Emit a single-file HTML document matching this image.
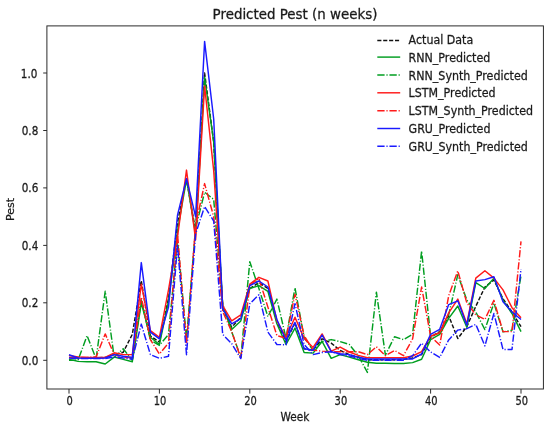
<!DOCTYPE html>
<html><head><meta charset="utf-8"><title>Predicted Pest (n weeks)</title>
<style>
html,body{margin:0;padding:0;background:#fff;}
body{width:550px;height:425px;overflow:hidden;}
svg{display:block;}
text{font-family:"DejaVu Sans","Liberation Sans",sans-serif;fill:#1a1a1a;stroke:#1a1a1a;stroke-width:0.27px;}
.t{font-size:11.1px;}
.ttl{font-size:13.3px;}
polyline,line.s{fill:none;stroke-width:1.45;stroke-linejoin:round;}
</style></head><body>
<svg width="550" height="425" viewBox="0 0 550 425">
<rect width="550" height="425" fill="#fff"/>
<text transform="translate(295.0,18.7) scale(1.000,1)" font-size="13.4" text-anchor="middle">Predicted Pest (n weeks)</text>
<g clip-path="none">
<polyline points="69.0,357.4 78.0,358.0 87.1,358.0 96.1,358.0 105.2,357.4 114.2,354.6 123.2,352.3 132.3,334.4 141.3,280.7 150.4,335.9 159.4,342.2 168.5,298.5 177.5,222.4 186.5,179.3 195.6,231.0 204.6,73.0 213.7,142.0 222.7,308.6 231.7,327.3 240.8,317.2 249.8,288.5 258.9,282.7 267.9,288.5 276.9,321.5 286.0,341.6 295.0,323.0 304.1,348.8 313.1,350.2 322.1,338.8 331.2,343.1 340.2,350.5 349.3,354.6 358.3,357.4 367.4,359.7 376.4,359.7 385.4,359.7 394.5,359.7 403.5,359.4 412.6,358.0 421.6,354.6 430.6,337.3 439.7,331.6 448.7,315.8 457.8,338.5 466.8,326.7 475.8,306.3 484.9,287.0 493.9,279.9 503.0,298.8 512.0,312.0 521.0,326.7" stroke="#111" stroke-dasharray="4.1 1.8"/>
<polyline points="69.0,359.4 78.0,361.4 87.1,361.7 96.1,361.7 105.2,364.0 114.2,357.1 123.2,359.4 132.3,361.7 141.3,302.8 150.4,337.3 159.4,344.5 168.5,301.4 177.5,231.0 186.5,179.3 195.6,233.9 204.6,77.3 213.7,142.0 222.7,305.7 231.7,329.6 240.8,320.9 249.8,288.5 258.9,285.6 267.9,291.3 276.9,323.8 286.0,344.5 295.0,328.1 304.1,352.5 313.1,353.1 322.1,341.3 331.2,358.3 340.2,354.6 349.3,357.1 358.3,359.7 367.4,362.3 376.4,363.2 385.4,363.2 394.5,363.5 403.5,363.5 412.6,362.6 421.6,359.2 430.6,339.6 439.7,334.4 448.7,318.4 457.8,306.0 466.8,327.3 475.8,282.7 484.9,288.5 493.9,278.1 503.0,300.3 512.0,313.5 521.0,331.6" stroke="#009e20"/>
<polyline points="69.0,360.3 78.0,360.3 87.1,335.6 96.1,358.9 105.2,291.3 114.2,357.4 123.2,348.8 132.3,360.3 141.3,300.0 150.4,340.2 159.4,345.4 168.5,334.4 177.5,239.6 186.5,338.8 195.6,228.1 204.6,192.2 213.7,199.4 222.7,304.3 231.7,331.6 240.8,357.4 249.8,261.8 258.9,288.5 267.9,316.6 276.9,299.1 286.0,338.2 295.0,287.9 304.1,337.3 313.1,350.5 322.1,341.6 331.2,339.6 340.2,341.6 349.3,344.5 358.3,355.7 367.4,372.4 376.4,292.2 385.4,355.1 394.5,336.7 403.5,339.6 412.6,334.4 421.6,251.1 430.6,336.2 439.7,332.7 448.7,314.9 457.8,274.7 466.8,300.0 475.8,312.0 484.9,329.6 493.9,303.1 503.0,331.9 512.0,330.1 521.0,275.5" stroke="#009e20" stroke-dasharray="7.3 1.85 1.15 1.85"/>
<polyline points="69.0,355.4 78.0,356.9 87.1,357.4 96.1,357.4 105.2,357.4 114.2,352.8 123.2,354.6 132.3,354.6 141.3,284.2 150.4,330.7 159.4,337.3 168.5,289.9 177.5,236.8 186.5,170.1 195.6,239.6 204.6,85.9 213.7,170.7 222.7,305.7 231.7,320.9 240.8,314.9 249.8,284.2 258.9,277.3 267.9,281.0 276.9,320.9 286.0,337.3 295.0,317.2 304.1,338.5 313.1,347.4 322.1,333.9 331.2,351.1 340.2,347.1 349.3,352.0 358.3,355.4 367.4,357.7 376.4,357.7 385.4,357.7 394.5,357.7 403.5,357.7 412.6,356.0 421.6,351.7 430.6,336.2 439.7,332.7 448.7,312.9 457.8,299.1 466.8,323.8 475.8,278.1 484.9,270.7 493.9,278.1 503.0,289.9 512.0,307.7 521.0,317.8" stroke="#ff1a1a"/>
<polyline points="69.0,357.4 78.0,357.4 87.1,357.4 96.1,356.9 105.2,333.9 114.2,354.6 123.2,357.4 132.3,357.4 141.3,297.1 150.4,339.6 159.4,354.0 168.5,343.1 177.5,233.9 186.5,343.9 195.6,225.3 204.6,183.6 213.7,216.7 222.7,311.5 231.7,331.6 240.8,358.0 249.8,285.6 258.9,278.4 267.9,307.1 276.9,335.6 286.0,338.2 295.0,294.2 304.1,335.6 313.1,350.2 322.1,351.1 331.2,351.7 340.2,351.7 349.3,351.7 358.3,351.7 367.4,354.6 376.4,346.8 385.4,355.7 394.5,350.5 403.5,355.7 412.6,338.8 421.6,287.0 430.6,336.2 439.7,345.1 448.7,295.7 457.8,270.9 466.8,302.8 475.8,314.9 484.9,319.5 493.9,300.3 503.0,331.6 512.0,331.6 521.0,241.4" stroke="#ff1a1a" stroke-dasharray="7.3 1.85 1.15 1.85"/>
<polyline points="69.0,354.8 78.0,358.0 87.1,358.3 96.1,358.3 105.2,358.0 114.2,354.6 123.2,356.3 132.3,357.4 141.3,262.6 150.4,332.1 159.4,338.8 168.5,307.1 177.5,215.2 186.5,178.7 195.6,216.7 204.6,41.4 213.7,119.0 222.7,308.6 231.7,323.8 240.8,318.6 249.8,285.6 258.9,281.0 267.9,287.0 276.9,319.5 286.0,340.2 295.0,322.4 304.1,348.8 313.1,350.2 322.1,335.0 331.2,351.7 340.2,353.7 349.3,354.6 358.3,357.1 367.4,358.9 376.4,358.9 385.4,358.9 394.5,358.9 403.5,358.9 412.6,358.9 421.6,354.0 430.6,334.4 439.7,329.3 448.7,304.6 457.8,300.8 466.8,325.2 475.8,281.0 484.9,279.6 493.9,276.7 503.0,301.7 512.0,312.0 521.0,319.5" stroke="#1a1aff"/>
<polyline points="69.0,358.0 78.0,358.6 87.1,358.6 96.1,358.6 105.2,358.6 114.2,356.9 123.2,358.0 132.3,359.2 141.3,324.1 150.4,354.6 159.4,358.3 168.5,356.3 177.5,245.4 186.5,354.8 195.6,233.9 204.6,206.6 213.7,221.0 222.7,334.4 231.7,343.6 240.8,358.6 249.8,303.7 258.9,294.8 267.9,332.1 276.9,344.5 286.0,344.8 295.0,303.7 304.1,344.5 313.1,354.6 322.1,352.5 331.2,351.7 340.2,354.6 349.3,356.0 358.3,358.3 367.4,360.3 376.4,360.3 385.4,360.3 394.5,360.3 403.5,360.3 412.6,355.7 421.6,343.1 430.6,352.0 439.7,357.4 448.7,339.9 457.8,330.1 466.8,328.7 475.8,324.4 484.9,345.9 493.9,313.5 503.0,349.4 512.0,349.4 521.0,269.2" stroke="#1a1aff" stroke-dasharray="7.3 1.85 1.15 1.85"/>
</g>
<rect x="46.9" y="25.9" width="496.5" height="363.1" fill="none" stroke="#222" stroke-width="0.95"/>
<line x1="69.0" y1="389.0" x2="69.0" y2="393.6" stroke="#222" stroke-width="0.95"/>
<text transform="translate(69.7,405.0) scale(0.830,1)" font-size="11.9" text-anchor="middle">0</text>
<line x1="159.4" y1="389.0" x2="159.4" y2="393.6" stroke="#222" stroke-width="0.95"/>
<text transform="translate(160.1,405.0) scale(0.830,1)" font-size="11.9" text-anchor="middle">10</text>
<line x1="249.8" y1="389.0" x2="249.8" y2="393.6" stroke="#222" stroke-width="0.95"/>
<text transform="translate(250.5,405.0) scale(0.830,1)" font-size="11.9" text-anchor="middle">20</text>
<line x1="340.2" y1="389.0" x2="340.2" y2="393.6" stroke="#222" stroke-width="0.95"/>
<text transform="translate(340.9,405.0) scale(0.830,1)" font-size="11.9" text-anchor="middle">30</text>
<line x1="430.6" y1="389.0" x2="430.6" y2="393.6" stroke="#222" stroke-width="0.95"/>
<text transform="translate(431.3,405.0) scale(0.830,1)" font-size="11.9" text-anchor="middle">40</text>
<line x1="521.0" y1="389.0" x2="521.0" y2="393.6" stroke="#222" stroke-width="0.95"/>
<text transform="translate(521.8,405.0) scale(0.830,1)" font-size="11.9" text-anchor="middle">50</text>
<line x1="43.2" y1="360.3" x2="46.9" y2="360.3" stroke="#222" stroke-width="0.95"/>
<text transform="translate(38.3,364.6) scale(0.875,1)" font-size="11.9" text-anchor="end">0.0</text>
<line x1="43.2" y1="302.8" x2="46.9" y2="302.8" stroke="#222" stroke-width="0.95"/>
<text transform="translate(38.3,307.1) scale(0.875,1)" font-size="11.9" text-anchor="end">0.2</text>
<line x1="43.2" y1="245.4" x2="46.9" y2="245.4" stroke="#222" stroke-width="0.95"/>
<text transform="translate(38.3,249.7) scale(0.875,1)" font-size="11.9" text-anchor="end">0.4</text>
<line x1="43.2" y1="187.9" x2="46.9" y2="187.9" stroke="#222" stroke-width="0.95"/>
<text transform="translate(38.3,192.2) scale(0.875,1)" font-size="11.9" text-anchor="end">0.6</text>
<line x1="43.2" y1="130.5" x2="46.9" y2="130.5" stroke="#222" stroke-width="0.95"/>
<text transform="translate(38.3,134.8) scale(0.875,1)" font-size="11.9" text-anchor="end">0.8</text>
<line x1="43.2" y1="73.0" x2="46.9" y2="73.0" stroke="#222" stroke-width="0.95"/>
<text transform="translate(37.4,77.8) scale(0.875,1)" font-size="11.9" text-anchor="end">1.0</text>
<text transform="translate(295.0,420.6) scale(0.885,1)" font-size="11.9" text-anchor="middle">Week</text>
<text transform="translate(13.6,209.5) rotate(-90) scale(0.990,1)" font-size="11.1" text-anchor="middle">Pest</text>
<line class="s" x1="377.3" y1="40.5" x2="400.2" y2="40.5" stroke="#111" stroke-dasharray="4.1 1.8"/>
<text transform="translate(408.6,44.1) scale(0.930,1)" font-size="11.9" text-anchor="start">Actual Data</text>
<line class="s" x1="377.3" y1="57.1" x2="400.2" y2="57.1" stroke="#009e20"/>
<text transform="translate(408.6,61.6) scale(0.930,1)" font-size="11.9" text-anchor="start">RNN_Predicted</text>
<line class="s" x1="377.3" y1="75.0" x2="400.2" y2="75.0" stroke="#009e20" stroke-dasharray="7.3 1.85 1.15 1.85"/>
<text transform="translate(408.6,79.5) scale(0.930,1)" font-size="11.9" text-anchor="start">RNN_Synth_Predicted</text>
<line class="s" x1="377.3" y1="92.8" x2="400.2" y2="92.8" stroke="#ff1a1a"/>
<text transform="translate(408.6,97.3) scale(0.930,1)" font-size="11.9" text-anchor="start">LSTM_Predicted</text>
<line class="s" x1="377.3" y1="110.7" x2="400.2" y2="110.7" stroke="#ff1a1a" stroke-dasharray="7.3 1.85 1.15 1.85"/>
<text transform="translate(408.6,115.2) scale(0.930,1)" font-size="11.9" text-anchor="start">LSTM_Synth_Predicted</text>
<line class="s" x1="377.3" y1="128.5" x2="400.2" y2="128.5" stroke="#1a1aff"/>
<text transform="translate(408.6,133.0) scale(0.930,1)" font-size="11.9" text-anchor="start">GRU_Predicted</text>
<line class="s" x1="377.3" y1="146.3" x2="400.2" y2="146.3" stroke="#1a1aff" stroke-dasharray="7.3 1.85 1.15 1.85"/>
<text transform="translate(408.6,150.8) scale(0.930,1)" font-size="11.9" text-anchor="start">GRU_Synth_Predicted</text>
</svg></body></html>
